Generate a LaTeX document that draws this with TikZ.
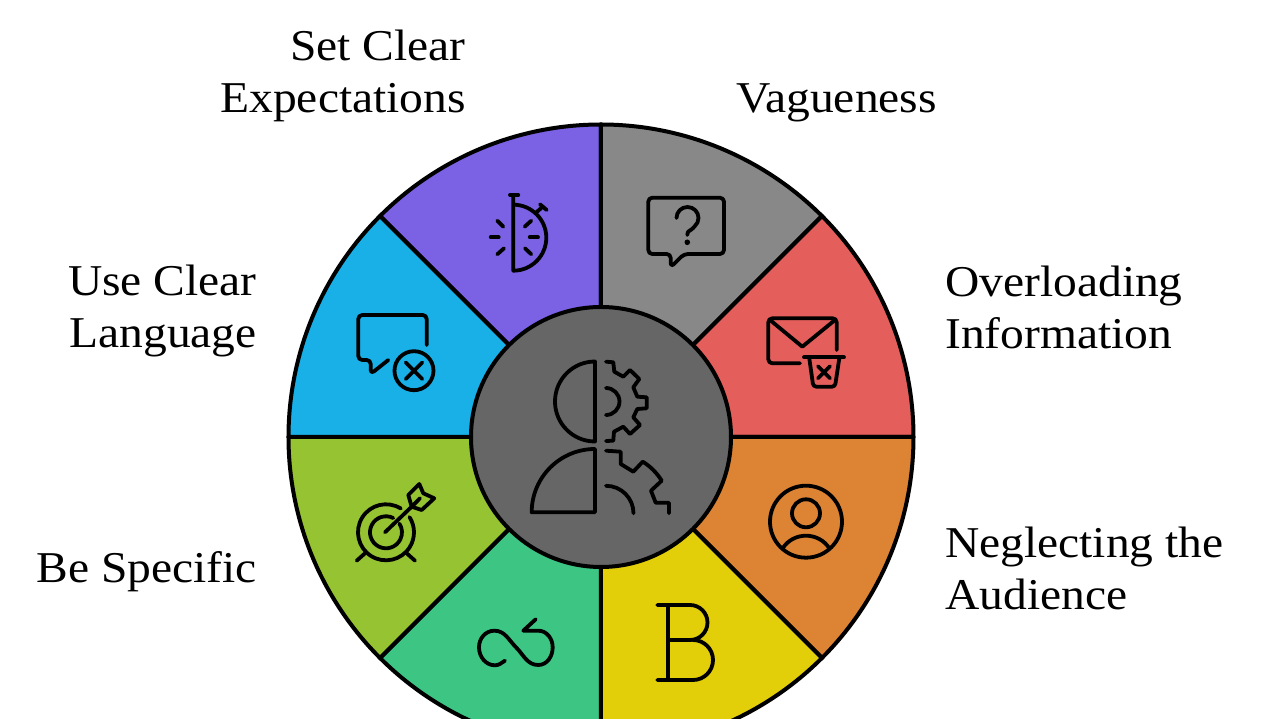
\documentclass[tikz,border=0pt]{standalone}
\usepackage{fontspec}
\setmainfont{Liberation Serif}[FakeStretch=1.08]
\usepackage{xcolor}
\usetikzlibrary{positioning}
\definecolor{cViolet}{HTML}{7B61E4}
\definecolor{cGrey}{HTML}{888888}
\definecolor{cRed}{HTML}{E45F5C}
\definecolor{cOrange}{HTML}{DC8433}
\definecolor{cYellow}{HTML}{E3CF09}
\definecolor{cGreen}{HTML}{3DC583}
\definecolor{cLime}{HTML}{95C332}
\definecolor{cBlue}{HTML}{18B0E6}
\definecolor{cHub}{HTML}{666666}
\tikzstyle{sector} = [draw=black, line width=4pt, line join=round]
\tikzstyle{icon} = [draw=black, line width=3.8pt, line cap=round, line join=round]
\tikzstyle{lbl} = [inner sep=0pt, font=\fontsize{44}{52}\selectfont]
\tikzstyle{lblleft} = [lbl, anchor=west, align=left]
\tikzstyle{lblright} = [lbl, anchor=east, align=right]

\begin{document}
\begin{tikzpicture}[x=1pt, y=1pt]
    \clip (-601,-282) rectangle (679,437);
    \fill [white] (-601,-282) rectangle (679,437);

    % wheel
    \filldraw [sector, fill=cViolet] (0,0) -- (90:312.5) arc (90:135:312.5) -- cycle;
    \filldraw [sector, fill=cGrey]   (0,0) -- (45:312.5) arc (45:90:312.5) -- cycle;
    \filldraw [sector, fill=cRed]    (0,0) -- (0:312.5) arc (0:45:312.5) -- cycle;
    \filldraw [sector, fill=cOrange] (0,0) -- (-45:312.5) arc (-45:0:312.5) -- cycle;
    \filldraw [sector, fill=cYellow] (0,0) -- (-90:312.5) arc (-90:-45:312.5) -- cycle;
    \filldraw [sector, fill=cGreen]  (0,0) -- (-135:312.5) arc (-135:-90:312.5) -- cycle;
    \filldraw [sector, fill=cLime]   (0,0) -- (180:312.5) arc (180:225:312.5) -- cycle;
    \filldraw [sector, fill=cBlue]   (0,0) -- (135:312.5) arc (135:180:312.5) -- cycle;
    \node (hub) [circle, draw=black, line width=4pt, fill=cHub, inner sep=0pt, minimum size=260pt] at (0,0) {};

    % hub icon
    \draw [icon] (-6,75.5) arc (90:270:40) -- cycle;
    \draw [icon] (5,75.3) -- (12.3,74.7) -- (13.3,65.3) -- (22.3,60.3) -- (29,67) -- (38.3,58) -- (32.3,49.7) -- (36.3,40.3) -- (45.7,39.7) -- (45.7,28.7) -- (36.3,28) -- (32.3,19.7) -- (39,12) -- (29,3) -- (22.3,10.3) -- (13,5.3) -- (12.3,-3.7) -- (5,-4);
    \draw [icon] (5,49) arc (90:-90:13.5);
    \draw [icon] (-6,-12.3) -- (-6,-75.3) -- (-69.3,-75.3) arc (180:90:63.3);
    \draw [icon] (5,-13.7) -- (19.7,-14.7) -- (19.7,-27) -- (32.3,-34.7) -- (41.7,-24.7) .. controls (49,-29) and (56,-36) .. (60.7,-43.7) -- (50,-53.7) -- (54.7,-65.7) -- (68,-65.7) -- (68,-76.3);
    \draw [icon] (5,-48.8) arc (90:0:27.5);

    % stopwatch
    \draw [icon] (-87.7,242) -- (-87.7,166.3) arc (-90:90:33) ;
    \draw [icon] (-91,242) -- (-82.7,242);
    \draw [icon] (-65,224.3) -- (-58.3,230.3);
    \draw [icon] (-61,232.7) -- (-54.3,227);
    \draw [icon] (-103.7,216.3) -- (-97.7,210.3);
    \draw [icon] (-110.3,199.7) -- (-102.3,199.7);
    \draw [icon] (-103.7,182.7) -- (-97,188.7);
    \draw [icon] (-76.3,210.3) -- (-69.7,216.3);
    \draw [icon] (-71.3,199.7) -- (-63,199.7);
    \draw [icon] (-76,188.7) -- (-69.7,182.7);

    % question bubble
    \draw [icon, rounded corners=4pt] (83,183) -- (123,183) -- (123,239.3) -- (47.3,239.3) -- (47.3,183) -- (69.7,183) -- (69.7,169.7) -- cycle;
    \draw [icon] (75.5,219) arc (180:-50:11) .. controls (89,205) and (86.3,207) .. (86.3,202);
    \fill (86.3,194.7) circle (2.8pt);

    % bubble with cross
    \draw [icon, rounded corners=4pt] (-174.3,92) -- (-174.3,122) -- (-242.7,122) -- (-242.7,77) -- (-230.3,77) -- (-230.3,63) -- (-212.7,77);
    \draw [icon] (-187,66.3) circle (19.5pt);
    \draw [icon] (-195.3,74.6) -- (-178.7,58);
    \draw [icon] (-195.3,58) -- (-178.7,74.6);

    % envelope and bin
    \draw [icon, rounded corners=4pt] (235.7,87) -- (235.7,118.7) -- (167.3,118.7) -- (167.3,73.7) -- (199,73.7);
    \draw [icon] (169,117) -- (201.3,90.3) -- (234,117);
    \draw [icon] (203,79.7) -- (243,79.7);
    \draw [icon, rounded corners=3pt] (208.3,78.7) -- (212.3,50.3) -- (234,50.3) -- (238.3,78.7);
    \draw [icon] (217,70.7) -- (229,58.7);
    \draw [icon] (217,58.7) -- (229,70.7);

    % target
    \draw [icon] (58:28) ++(-215,-95.3) arc (58:393:28);
    \draw [icon] (63:16) ++(-215,-95.3) arc (63:393:16);
    \draw [icon] (-216,-95.3) -- (-189.3,-69.7);
    \draw [icon] (-192.7,-58) -- (-181.7,-47) -- (-177.7,-56.3) -- (-166.7,-61.3) -- (-179.3,-73) -- (-189.3,-69.7) -- cycle;
    \draw [icon] (-189.3,-69.7) -- (-181,-61.3);
    \draw [icon] (-244.3,-123.7) -- (-236,-116.3);
    \draw [icon] (-194.3,-116.3) -- (-186,-123.7);

    % infinity
    \draw [icon] (-96,-223.7) to [out=-150, in=0] (-106,-228.3) to [out=180, in=-90] (-122,-210.3) to [out=90, in=180] (-106.7,-193.7) to [out=0, in=135] (-85,-210.3) to [out=-45, in=180] (-62.7,-228) to [out=0, in=-90] (-48.3,-210.3) to [out=90, in=0] (-62.7,-193.7) -- (-77.7,-193.7) -- (-65.3,-182.3);

    % letter
    \draw [icon] (56.3,-168) -- (89,-168) arc (90:-90:17.5) -- (67.3,-203);
    \draw [icon] (92,-203) arc (90:-90:20) -- (56.3,-243);
    \draw [icon] (67.3,-168) -- (67.3,-243);

    % person
    \draw [icon] (205,-84.7) circle (36pt);
    \draw [icon] (205,-76.3) circle (14pt);
    \draw [icon] (181.7,-111.3) .. controls (187,-103) and (196,-98.7) .. (205,-98.7) .. controls (214,-98.7) and (223,-103) .. (228.3,-111.3);

    % labels
    \node (expect)  [lblright] at (-135,361) {Set Clear\\Expectations};
    \node (vague)   [lblleft]  at (135,334)  {Vagueness};
    \node (over)    [lblleft]  at (344,130)  {Overloading\\Information};
    \node (neglect) [lblleft]  at (344,-131) {Neglecting the\\Audience};
    \node (clear)   [lblright] at (-344,126) {Use Clear\\Language};
    \node (spec)    [lblright] at (-344,-135) {Be Specific};
\end{tikzpicture}
\end{document}
